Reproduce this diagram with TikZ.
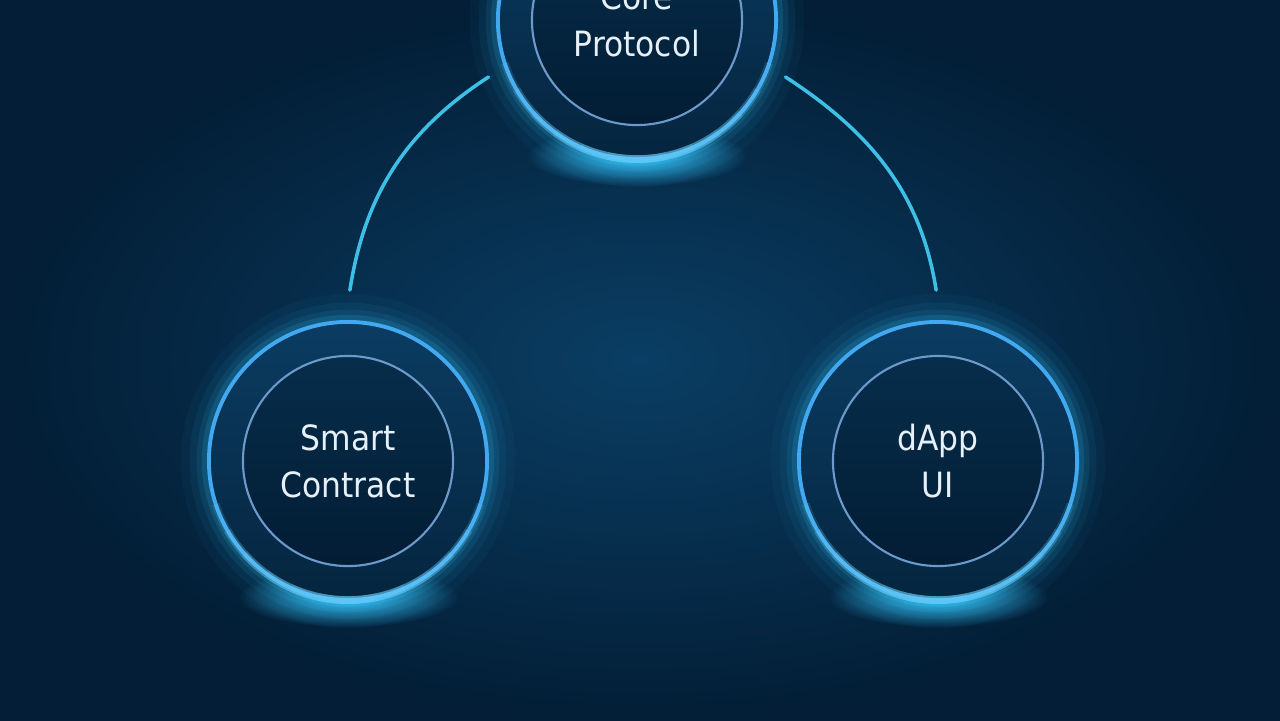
\documentclass[tikz,border=0pt]{standalone}
\usepackage{fontspec}
\setmainfont{DejaVu Sans Condensed}
\usetikzlibrary{backgrounds,fadings}
\definecolor{bgmid}{HTML}{0A3E64}
\definecolor{bgedge}{HTML}{031E36}
\definecolor{ringblue}{HTML}{42A8F0}
\definecolor{ringlite}{HTML}{6C9ACB}
\definecolor{glowcyan}{HTML}{35C8FF}
\definecolor{linkcyan}{HTML}{3EC0E6}
\definecolor{disctop}{HTML}{0B3C62}
\definecolor{discbot}{HTML}{05253F}
\definecolor{coretop}{HTML}{07304F}
\definecolor{corebot}{HTML}{021A30}
\definecolor{labelwhite}{HTML}{E6F0F8}
\tikzfading[name=glowfade, inner color=transparent!0, outer color=transparent!100]
\tikzset{
  hub/.style={circle, minimum size=2.78cm, draw=ringblue, line width=1.1pt, outer sep=0.2cm,
    top color=disctop, bottom color=discbot, text=labelwhite, align=center,
    font=\fontsize{9.9}{13.4}\selectfont,
    path picture={
      \shade[top color=coretop, bottom color=corebot] (path picture bounding box.center) circle (1.05cm);
      \draw[ringlite, line width=0.6pt] (path picture bounding box.center) circle (1.05cm);}},
  link/.style={draw=linkcyan, line width=1pt, line cap=round}
}
\begin{document}
\begin{tikzpicture}[x=0.01cm,y=0.01cm]
\useasboundingbox (0,0) rectangle (1280,720);
\clip (0,0) rectangle (1280,720);
\node[hub] (core) at (637,700) {Core\\Protocol};
\node[hub] (smart) at (348,259) {Smart\\Contract};
\node[hub] (dapp) at (938,259) {dApp\\UI};
\draw[link, shorten >=0.12cm] (core.201) to[out=213,in=81] (smart.north);
\draw[link, shorten >=0.12cm] (core.339) to[out=327,in=99] (dapp.north);
\foreach \n in {core,smart,dapp}{
  \foreach \a in {12,24,...,72}
    \draw[glowcyan!70!white, line width=2.2pt, opacity=0.16] ([shift={(270-\a:1.39cm)}]\n.center) arc (270-\a:270+\a:1.39cm);
}
\begin{scope}[on background layer]
\shade[inner color=bgmid, outer color=bgedge] (0,0) rectangle (1280,720);
\foreach \n in {core,smart,dapp}{
  \foreach \w/\o in {16/0.04,11/0.06,7/0.09,4/0.14}
    \draw[glowcyan, line width=\w pt, opacity=\o] (\n.center) circle (1.39cm);
  \shade[path fading=glowfade, inner color=glowcyan, outer color=glowcyan] ([yshift=-1.36cm]\n.center) ellipse (1.1cm and 0.3cm);
}
\end{scope}
\end{tikzpicture}
\end{document}
